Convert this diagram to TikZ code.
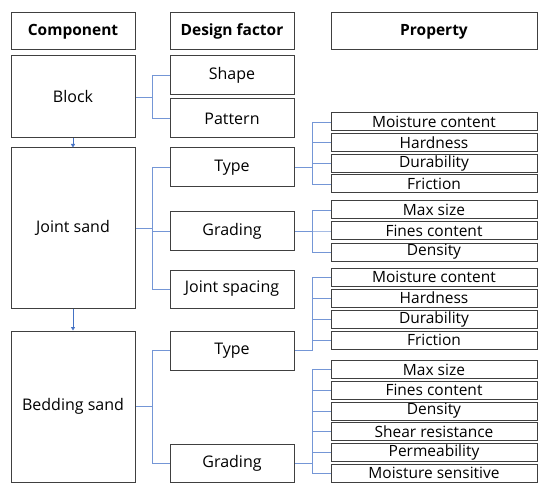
\documentclass[tikz,border=0pt]{standalone}
\usepackage{fontspec}
\setmainfont{Open Sans}
\usetikzlibrary{arrows.meta}
\definecolor{conncol}{HTML}{7496D6}
\definecolor{arrcol}{HTML}{4472C4}
\definecolor{edge}{HTML}{404040}
\begin{document}
\begin{tikzpicture}[x=1pt,y=-1pt,
  box/.style={draw=edge,line width=1pt,inner sep=0pt,fill=white,font=\fontsize{16}{18}\selectfont},
  comp/.style={box,minimum width=124pt},
  fact/.style={box,minimum width=124pt},
  prop/.style={box,minimum width=206pt,minimum height=18pt,font=\fontsize{15.5}{16}\selectfont},
  head/.style={box,minimum height=37pt,font=\fontsize{15.5}{17}\selectfont\bfseries},
  conn/.style={draw=conncol,line width=0.9pt},
  flow/.style={draw=arrcol,line width=0.8pt,-{Triangle[length=3.5pt,width=4pt]}}]
\useasboundingbox (0,0) rectangle (550,495);
% headers
\node[head,minimum width=124pt] (hc) at (73,31.5) {Component};
\node[head,minimum width=124pt] (hd) at (232,31.5) {Design factor};
\node[head,minimum width=206pt] (hp) at (434,31.5) {Property};
% components
\node[comp,minimum height=82pt] (block) at (73,97) {Block};
\node[comp,minimum height=160pt] (joint) at (73,228) {Joint sand};
\node[comp,minimum height=151pt] (bed) at (73,406.5) {Bedding sand};
% factors
\node[fact,minimum height=39pt] (shape) at (232,75.5) {Shape};
\node[fact,minimum height=39pt] (pattern) at (232,118.5) {Pattern};
\node[fact,minimum height=39pt] (jtype) at (232,167.5) {Type};
\node[fact,minimum height=38pt] (jgrad) at (232,231) {Grading};
\node[fact,minimum height=38pt] (jspace) at (232,289) {Joint spacing};
\node[fact,minimum height=39pt] (btype) at (232,350.5) {Type};
\node[fact,minimum height=38pt] (bgrad) at (232,463) {Grading};
% properties
\node[prop] (p1) at (434,122) {Moisture content};
\node[prop] (p2) at (434,142.7) {Hardness};
\node[prop] (p3) at (434,163.4) {Durability};
\node[prop] (p4) at (434,184) {Friction};
\node[prop] (p5) at (434,210) {Max size};
\node[prop] (p6) at (434,231) {Fines content};
\node[prop] (p7) at (434,252) {Density};
\node[prop] (p8) at (434,277) {Moisture content};
\node[prop] (p9) at (434,298) {Hardness};
\node[prop] (p10) at (434,319) {Durability};
\node[prop] (p11) at (434,340) {Friction};
\node[prop] (p12) at (434,369.5) {Max size};
\node[prop] (p13) at (434,390.3) {Fines content};
\node[prop] (p14) at (434,411) {Density};
\node[prop] (p15) at (434,431.8) {Shear resistance};
\node[prop] (p16) at (434,452.5) {Permeability};
\node[prop] (p17) at (434,473) {Moisture sensitive};
% component -> factor connectors
\foreach \f in {shape,pattern}{\draw[conn] (\f.west) -- ++(-17,0) |- (block.east);}
\foreach \f in {jtype,jgrad,jspace}{\draw[conn] (\f.west) -- ++(-17,0) |- (joint.east);}
\foreach \f in {btype,bgrad}{\draw[conn] (\f.west) -- ++(-17,0) |- (bed.east);}
% factor -> property connectors
\foreach \p in {p1,p2,p3,p4}{\draw[conn] (\p.west) -- ++(-18,0) |- (jtype.east);}
\foreach \p in {p5,p6,p7}{\draw[conn] (\p.west) -- ++(-18,0) |- (jgrad.east);}
\foreach \p in {p8,p9,p10,p11}{\draw[conn] (\p.west) -- ++(-18,0) |- (btype.east);}
\foreach \p in {p12,p13,p14,p15,p16,p17}{\draw[conn] (\p.west) -- ++(-18,0) |- (bgrad.east);}
% flow arrows
\draw[flow] (block.south) -- (joint.north);
\draw[flow] (joint.south) -- (bed.north);
\end{tikzpicture}
\end{document}
